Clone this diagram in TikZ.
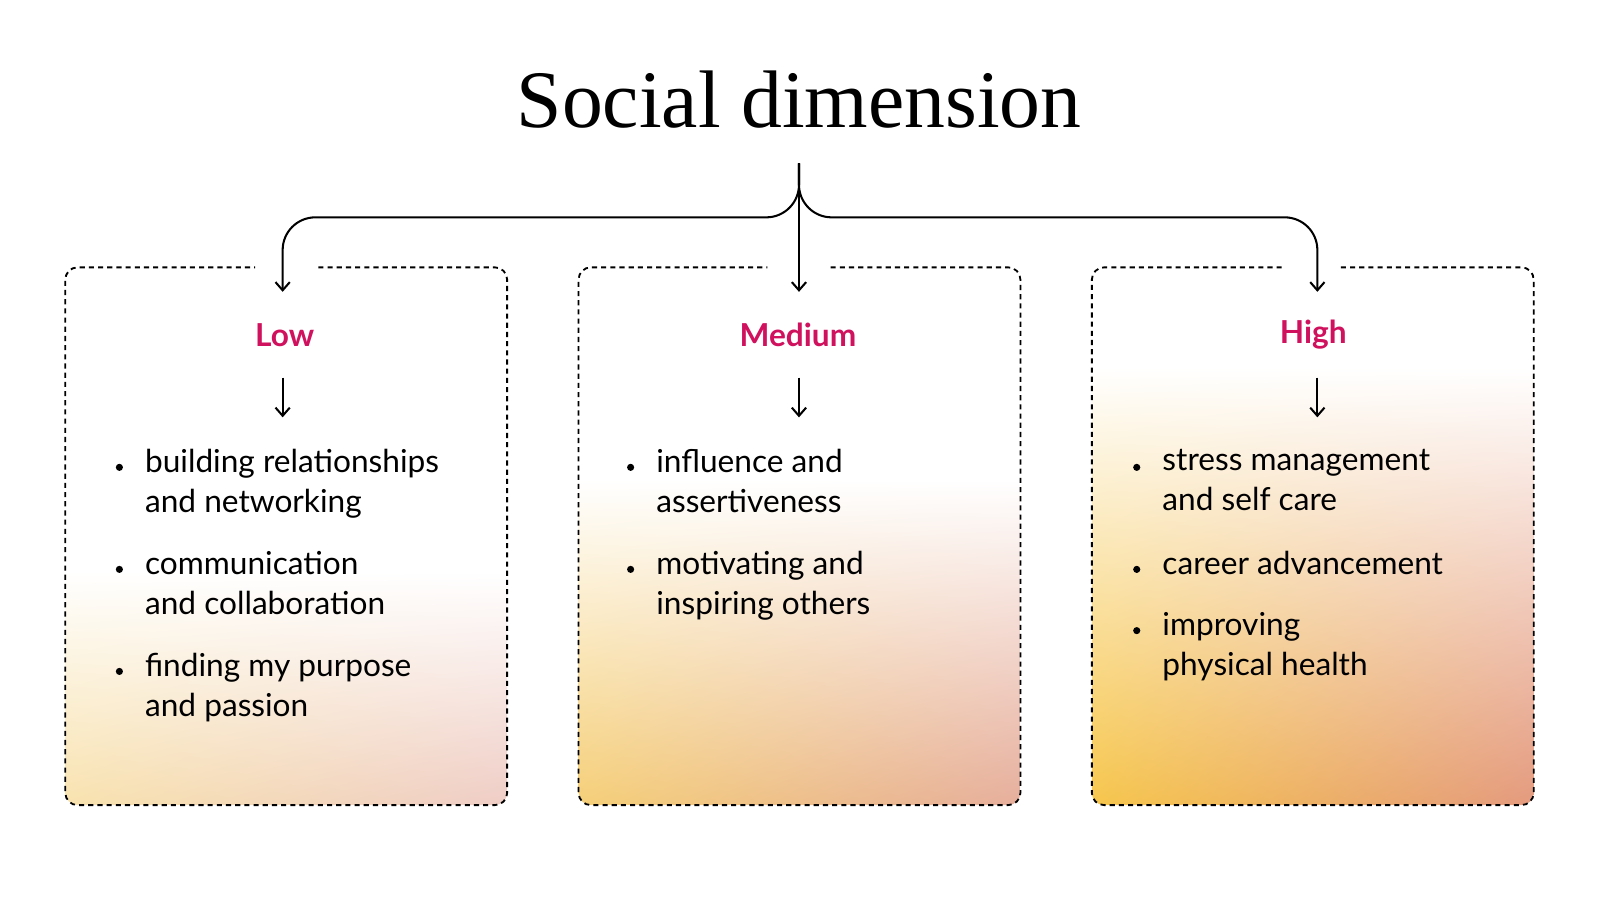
\documentclass[tikz,border=0pt]{standalone}
\usepackage{fontspec}
\setmainfont{Liberation Serif}
\newfontfamily\bodyfont{Lato}
\usetikzlibrary{arrows.meta,shadings}
\definecolor{headpink}{HTML}{D0115E}
\tikzset{
  boxline/.style={line width=1.8pt,dash pattern=on 5pt off 4pt,rounded corners=12pt},
  conn/.style={line width=2pt,-{Straight Barb[length=8pt,width=14pt]}},
  head/.style={font=\bodyfont\bfseries\fontsize{31}{36}\selectfont,text=headpink},
  item/.style={anchor=north west,font=\bodyfont\fontsize{31}{39}\selectfont,align=left,inner sep=0pt},
  dot/.style={circle,fill=black,inner sep=0pt,minimum size=7pt}
}
\begin{document}
\begin{tikzpicture}[x=1pt,y=-1pt]
\useasboundingbox (0,0) rectangle (1568,882);
% gradients
\foreach \xl/\xr/\gs/\cl/\cr in {64/497/560/F8E2AE/EFCDC6, 567/1000/470/F5CF78/E6AE9C, 1070/1503/360/F6C64C/E49A7E}{
  \begin{scope}
  \clip[rounded corners=12pt] (\xl,262) rectangle (\xr,789);
  \definecolor{cL}{HTML}{\cl}\definecolor{cR}{HTML}{\cr}
  \shade[upper left=white,upper right=white,lower left=cL,lower right=cR] (\xl,\gs) rectangle (\xr,789);
  \end{scope}
}
% boxes with gaps
\foreach \xl/\xr/\ga/\gb in {64/497/250/312, 567/1000/752/814, 1070/1503/1260/1314}{
  \draw[boxline] (\gb,262) -- (\xr,262) -- (\xr,789) -- (\xl,789) -- (\xl,262) -- (\ga,262);
}
\node[font=\fontsize{80}{90}\selectfont] (title) at (783,98) {Social dimension};
\coordinate (top) at (783,160);
\coordinate (lowin) at (277,286);
\coordinate (medin) at (783,286);
\coordinate (highin) at (1291,286);
\draw[conn] (top) -- (medin);
\draw[conn,rounded corners=32pt] (top) -- (783,213) -- (277,213) -- (lowin);
\draw[conn,rounded corners=32pt] (top) -- (783,213) -- (1291,213) -- (highin);
% headings
\node[head] (low) at (279,328) {Low};
\node[head] (med) at (782,328) {Medium};
\node[head] (high) at (1287,328) {High};
\coordinate (la) at (277,370); \coordinate (lb) at (277,409);
\coordinate (ma) at (783,370); \coordinate (mb) at (783,409);
\coordinate (ha) at (1291,370); \coordinate (hb) at (1291,409);
\draw[conn] (la) -- (lb); \draw[conn] (ma) -- (mb); \draw[conn] (ha) -- (hb);
% items
\foreach \x/\y/\t [count=\i] in {
 142/440/{building relationships\\and networking},
 142/540/{communication\\and collaboration},
 142/640/{finding my purpose\\and passion},
 643/440/{influence and\\assertiveness},
 643/540/{motivating and\\inspiring others},
 1139/440/{stress management\\and self care},
 1139/540/{career advancement},
 1139/600/{improving\\physical health}}{
  \node[item] (it\i) at (\x,\y) {\t};
  \node[dot] (d\i) at (\x-25,\y+18) {};
}
\end{tikzpicture}
\end{document}
